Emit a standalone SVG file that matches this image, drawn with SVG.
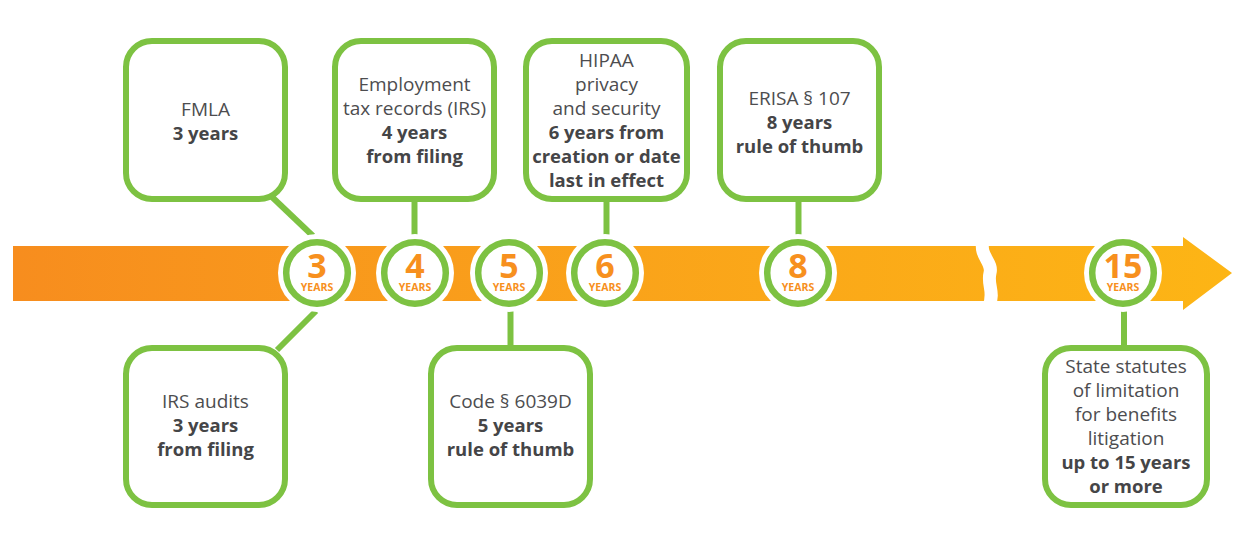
<svg xmlns="http://www.w3.org/2000/svg" width="1236" height="538" viewBox="0 0 1236 538">
<defs>
<linearGradient id="band" gradientUnits="userSpaceOnUse" x1="13" y1="0" x2="1232" y2="0">
<stop offset="0" stop-color="#F78D1E"/>
<stop offset="0.5" stop-color="#FAA31A"/>
<stop offset="1" stop-color="#FDB515"/>
</linearGradient>
</defs>
<style>
.box{fill:#fff;stroke:#7DC242;stroke-width:6}
.conn{stroke:#7DC242;stroke-width:6;fill:none}
.ring{fill:#fff;stroke:#7DC242;stroke-width:6.5}
.halo{fill:#fff}
.t{font-family:"Open Sans","Noto Sans",sans-serif;font-size:19px;fill:#4D4D4F;text-anchor:middle}
.b{font-weight:bold;font-size:18.5px;fill:#454547}
.num{font-family:"Open Sans","Noto Sans",sans-serif;font-weight:bold;font-size:34px;fill:#F7901E;text-anchor:middle}
.yr{font-family:"Open Sans","Noto Sans",sans-serif;font-weight:bold;font-size:10.5px;fill:#F7901E;text-anchor:middle}
</style>
<rect width="1236" height="538" fill="#fff"/>
<g id="timeline">
<path d="M13 246 H1183 V237 L1232 273 L1183 310 V301 H13 Z" fill="url(#band)"/>
<path d="M983 241 C979 256, 993 262, 990 273 C987 285, 995 292, 989 306" stroke="#fff" stroke-width="13" fill="none"/>
</g>
<g id="connectors">
<line class="conn" x1="272" y1="197" x2="313" y2="236"/>
<line class="conn" x1="277" y1="350" x2="316" y2="311"/>
<line class="conn" x1="414.5" y1="200" x2="414.5" y2="236"/>
<line class="conn" x1="606.5" y1="200" x2="606.5" y2="236"/>
<line class="conn" x1="798.5" y1="200" x2="798.5" y2="236"/>
<line class="conn" x1="510.5" y1="310" x2="510.5" y2="347"/>
<line class="conn" x1="1124" y1="310" x2="1124" y2="347"/>
</g>
<g id="m3"><circle class="halo" cx="317" cy="273" r="39"/><circle class="ring" cx="317" cy="273" r="30.8"/><text class="num" x="317" y="278">3</text><text class="yr" x="317" y="291">YEARS</text></g>
<g id="m4"><circle class="halo" cx="415" cy="273" r="39"/><circle class="ring" cx="415" cy="273" r="30.8"/><text class="num" x="415" y="278">4</text><text class="yr" x="415" y="291">YEARS</text></g>
<g id="m5"><circle class="halo" cx="509" cy="273" r="39"/><circle class="ring" cx="509" cy="273" r="30.8"/><text class="num" x="509" y="278">5</text><text class="yr" x="509" y="291">YEARS</text></g>
<g id="m6"><circle class="halo" cx="605" cy="273" r="39"/><circle class="ring" cx="605" cy="273" r="30.8"/><text class="num" x="605" y="278">6</text><text class="yr" x="605" y="291">YEARS</text></g>
<g id="m8"><circle class="halo" cx="798" cy="273" r="39"/><circle class="ring" cx="798" cy="273" r="30.8"/><text class="num" x="798" y="278">8</text><text class="yr" x="798" y="291">YEARS</text></g>
<g id="m15"><circle class="halo" cx="1123" cy="273" r="39"/><circle class="ring" cx="1123" cy="273" r="30.8"/><text class="num" x="1123" y="278">15</text><text class="yr" x="1123" y="291">YEARS</text></g>
<g id="fmla"><rect class="box" x="126" y="41" width="159" height="158" rx="26"/>
<text class="t" x="205.5" y="116">FMLA</text><text class="t b" x="205.5" y="140">3 years</text></g>
<g id="employment"><rect class="box" x="335" y="41" width="159" height="158" rx="26"/>
<text class="t" x="414.5" y="91">Employment</text><text class="t" x="414.5" y="115">tax records (IRS)</text><text class="t b" x="414.5" y="139">4 years</text><text class="t b" x="414.5" y="163">from filing</text></g>
<g id="hipaa"><rect class="box" x="526" y="41" width="161" height="158" rx="26"/>
<text class="t" x="606.5" y="67">HIPAA</text><text class="t" x="606.5" y="91">privacy</text><text class="t" x="606.5" y="115">and security</text><text class="t b" x="606.5" y="139">6 years from</text><text class="t b" x="606.5" y="163">creation or date</text><text class="t b" x="606.5" y="187">last in effect</text></g>
<g id="erisa"><rect class="box" x="720" y="41" width="159" height="158" rx="26"/>
<text class="t" x="799.5" y="105">ERISA § 107</text><text class="t b" x="799.5" y="129">8 years</text><text class="t b" x="799.5" y="153">rule of thumb</text></g>
<g id="irs"><rect class="box" x="126" y="348" width="159" height="157" rx="26"/>
<text class="t" x="205.5" y="408">IRS audits</text><text class="t b" x="205.5" y="432">3 years</text><text class="t b" x="205.5" y="456">from filing</text></g>
<g id="code"><rect class="box" x="431" y="348" width="159" height="157" rx="26"/>
<text class="t" x="510.5" y="408">Code § 6039D</text><text class="t b" x="510.5" y="432">5 years</text><text class="t b" x="510.5" y="456">rule of thumb</text></g>
<g id="state"><rect class="box" x="1045" y="348" width="162" height="157" rx="26"/>
<text class="t" x="1126" y="373">State statutes</text><text class="t" x="1126" y="397">of limitation</text><text class="t" x="1126" y="421">for benefits</text><text class="t" x="1126" y="445">litigation</text><text class="t b" x="1126" y="469">up to 15 years</text><text class="t b" x="1126" y="493">or more</text></g>
</svg>
